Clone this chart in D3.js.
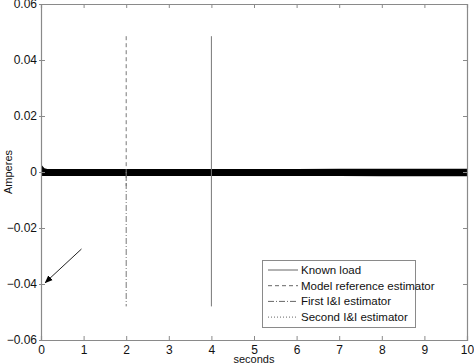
<!DOCTYPE html>
<html><head><meta charset="utf-8">
<script src="https://cdn.jsdelivr.net/npm/d3@7"></script>
<style>body{margin:0;background:#fff}svg{display:block}text{font-family:"Liberation Sans",Arial,Helvetica,sans-serif}</style>
</head><body><svg id="c" width="474" height="364"></svg>
<script>
// ---- data ----
const xTicks = [0,1,2,3,4,5,6,7,8,9,10];
const yTicks = [-0.06,-0.04,-0.02,0,0.02,0.04,0.06];
// envelope of the dense oscillation band around zero (Amperes)
const bandTime  = [0, 0.03, 0.08, 0.15, 1, 2, 3, 4, 5, 6, 7, 8, 9, 10];
const bandUpper = [0.0028, 0.0022, 0.0013, 0.0011, 0.0011, 0.0011, 0.0011, 0.0011, 0.0011, 0.0011, 0.0012, 0.0012, 0.0012, 0.0012];
const bandLower = [-0.0012, -0.0014, -0.0014, -0.0014, -0.0014, -0.0014, -0.0014, -0.0014, -0.0014, -0.0014, -0.0014, -0.0015, -0.0015, -0.0015];
// impulse spikes for each series
const spikeSeries = ["Model reference estimator", "First I&I estimator", "Known load"];
const spikeTime   = [2, 2, 4];
const spikeTop    = [0.0485, 0.0, 0.0485];
const spikeBottom = [-0.005, -0.048, -0.048];
const legendLabels = ["Known load", "Model reference estimator", "First I&I estimator", "Second I&I estimator"];
const legendDash = ["", "4,3", "6,2,1,2", "1,2"];
// annotation arrow (seconds, Amperes)
const arrowFrom = [0.95, -0.0275];
const arrowTo   = [0.1, -0.0395];

// ---- layout ----
const svg = d3.select("#c");
const L = 41, R = 467, T = 4, B = 340;
const x = d3.scaleLinear().domain([0,10]).range([L,R]);
const y = d3.scaleLinear().domain([-0.06,0.06]).range([B,T]);
const axisCol = "#8a8a8a";

const fmt = v => v === 0 ? "0" : (v < 0 ? "\u2212" : "") + Math.abs(v).toFixed(2);

// band
const band = bandTime.map((t,i)=>({t, u:bandUpper[i], l:bandLower[i]}));
svg.append("path").datum(band)
  .attr("d", d3.area().x(d=>x(d.t)).y0(d=>y(d.l)).y1(d=>y(d.u)))
  .attr("fill","#000");

// spikes
const spikeStyle = {"Known load":"", "Model reference estimator":"4,3", "First I&I estimator":"6,2,1,2"};
spikeTime.forEach((t,i)=>{
  svg.append("line").attr("x1",x(t)).attr("x2",x(t))
    .attr("y1",y(spikeTop[i])).attr("y2",y(spikeBottom[i]))
    .attr("stroke","#777").attr("stroke-width",1)
    .attr("stroke-dasharray", spikeStyle[spikeSeries[i]]);
});

// axes frame
const gx = svg.append("g").attr("transform",`translate(0,${B})`)
  .call(d3.axisBottom(x).tickValues(xTicks).tickSize(-4).tickPadding(6).tickFormat(d3.format("d")));
const gxt = svg.append("g").attr("transform",`translate(0,${T})`)
  .call(d3.axisTop(x).tickValues(xTicks).tickSize(-4).tickFormat(""));
const gy = svg.append("g").attr("transform",`translate(${L},0)`)
  .call(d3.axisLeft(y).tickValues(yTicks).tickSize(-4).tickPadding(4).tickFormat(fmt));
const gyr = svg.append("g").attr("transform",`translate(${R},0)`)
  .call(d3.axisRight(y).tickValues(yTicks).tickSize(-4).tickFormat(""));
[gx,gxt,gy,gyr].forEach(g=>{
  g.select(".domain").attr("stroke",axisCol).attr("stroke-width",1.2);
  g.selectAll(".tick line").attr("stroke",axisCol);
  g.selectAll(".tick text").attr("fill","#111").attr("font-size","12px");
});
gy.selectAll(".tick").append("line").attr("x1",0).attr("x2",-2).attr("stroke",axisCol);
gy.selectAll(".tick text").attr("x",-4);
gx.selectAll(".tick text").attr("y",5).attr("dy","0.71em");

// axis titles
svg.append("text").attr("x",254).attr("y",363).attr("text-anchor","middle")
  .attr("font-size","11px").attr("fill","#111").text("seconds");
svg.append("text").attr("transform","translate(12,172) rotate(-90)").attr("text-anchor","middle")
  .attr("font-size","11px").attr("fill","#111").text("Amperes");

// arrow
svg.append("defs").append("marker").attr("id","ah").attr("viewBox","0 0 10 10")
  .attr("refX",9).attr("refY",5).attr("markerWidth",8).attr("markerHeight",8).attr("orient","auto")
  .append("path").attr("d","M0,1 L10,5 L0,9 Z").attr("fill","#000");
svg.append("line").attr("x1",x(arrowFrom[0])).attr("y1",y(arrowFrom[1]))
  .attr("x2",x(arrowTo[0])).attr("y2",y(arrowTo[1]))
  .attr("stroke","#222").attr("stroke-width",1).attr("marker-end","url(#ah)");

// legend
const lg = svg.append("g");
lg.append("rect").attr("x",262.5).attr("y",260.5).attr("width",153).attr("height",67)
  .attr("fill","#fff").attr("stroke",axisCol).attr("stroke-width",1);
legendLabels.forEach((s,i)=>{
  const yy = 270 + i*15.7;
  lg.append("line").attr("x1",268).attr("x2",298).attr("y1",yy).attr("y2",yy)
    .attr("stroke","#666").attr("stroke-width",1).attr("stroke-dasharray",legendDash[i]);
  lg.append("text").attr("x",301).attr("y",yy+4).attr("font-size","11.5px").attr("fill","#111").text(s);
});
</script></body></html>
